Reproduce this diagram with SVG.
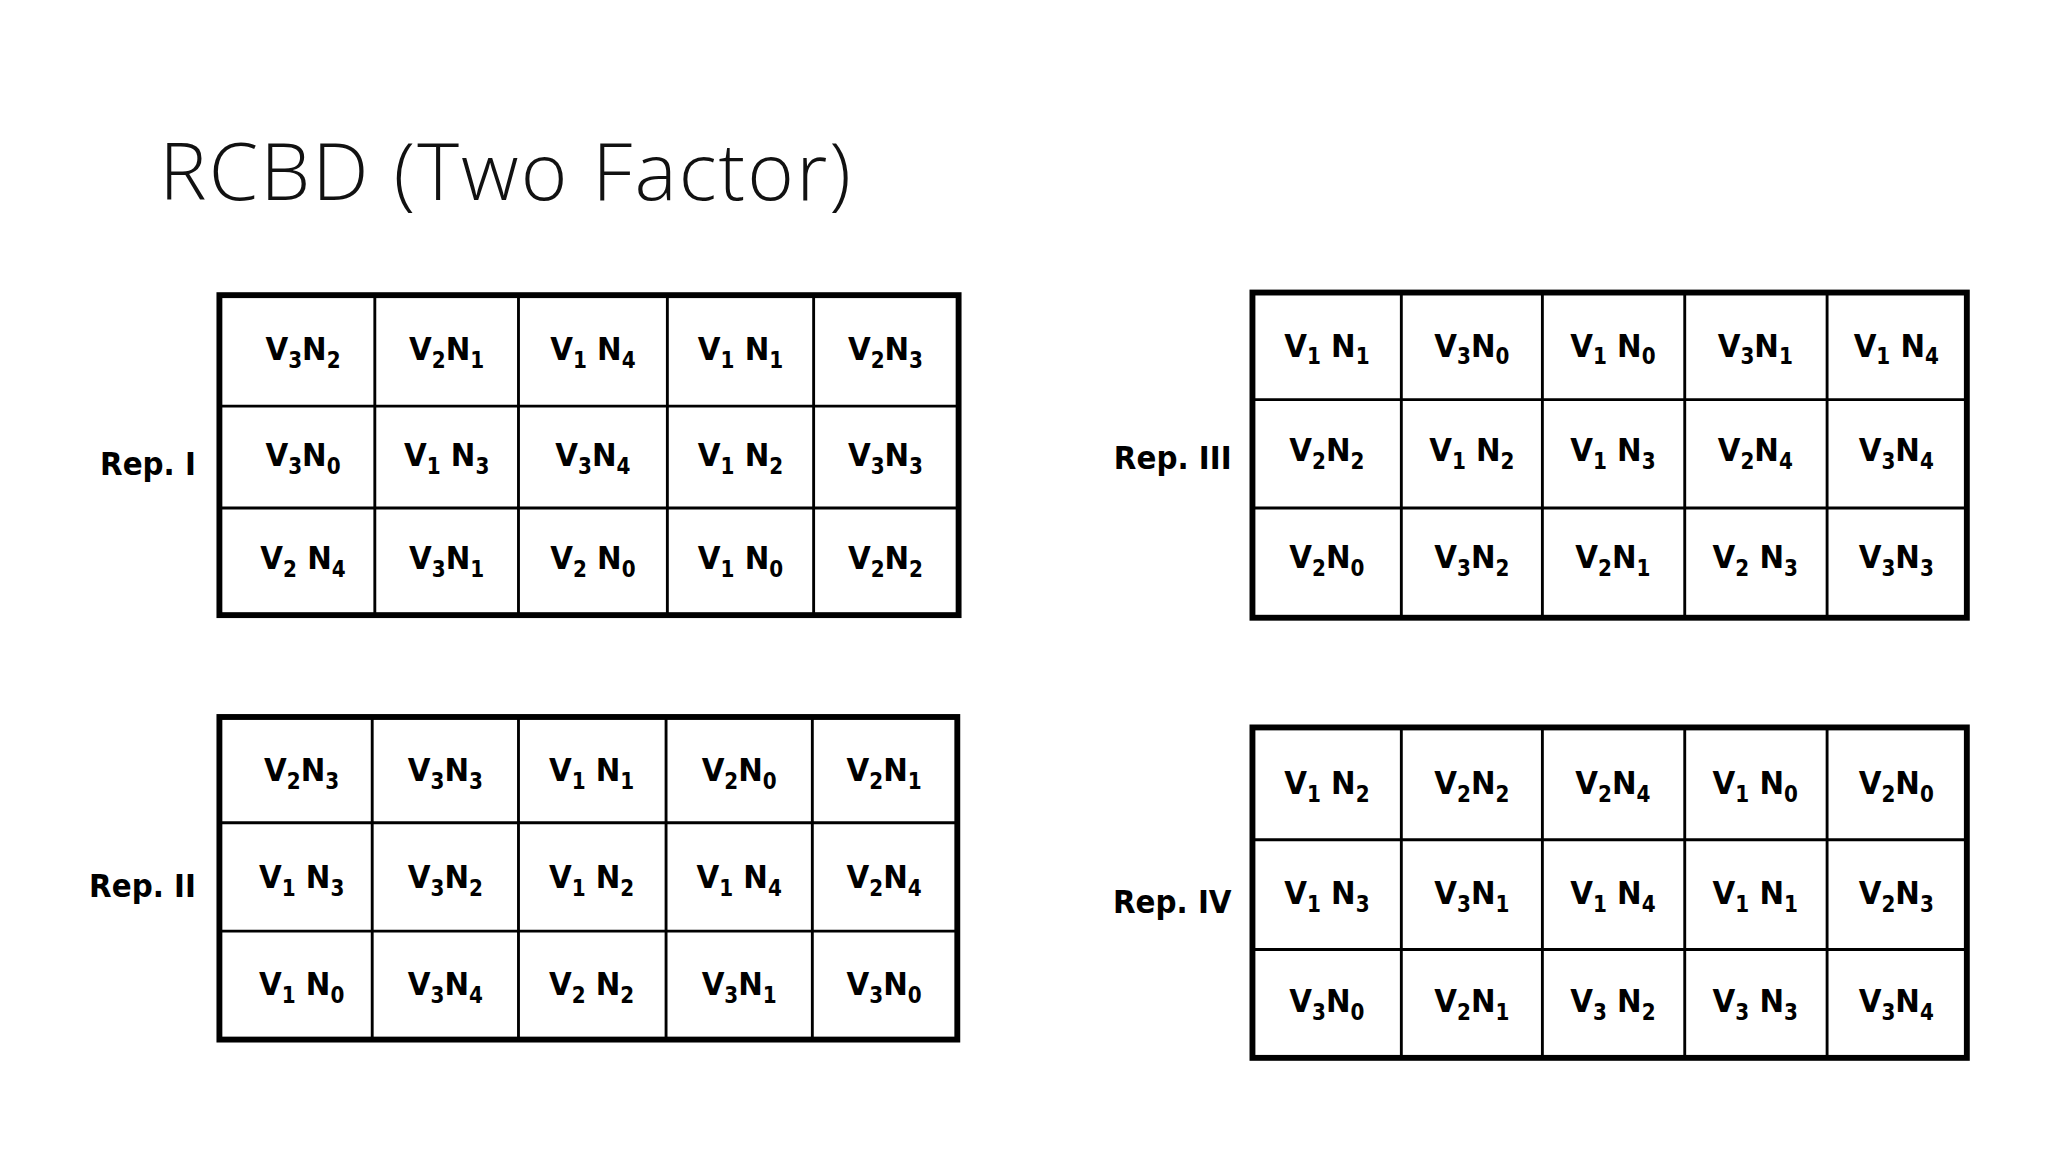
<svg xmlns="http://www.w3.org/2000/svg" width="2048" height="1152" viewBox="0 0 2048 1152">
<style>
.t{font-family:"Open Sans","Liberation Sans",sans-serif;font-weight:300;font-size:61px;letter-spacing:1.6px;fill:#111}
.o{fill:none;stroke:#000;stroke-width:4.5}
.i{stroke:#000;stroke-width:2.2}
.c{font-family:"DejaVu Sans Condensed","DejaVu Sans",sans-serif;font-weight:bold;font-size:25px;fill:#000;text-anchor:middle}
.s{font-size:17px}
.l{font-family:"DejaVu Sans Condensed","DejaVu Sans",sans-serif;font-weight:bold;font-size:25px;fill:#000;text-anchor:end}
</style>
<rect width="2048" height="1152" fill="#fff"/>
<g transform="scale(1.306)">
<text class="t" x="122" y="153">RCBD (Two Factor)</text>
<g id="rep1">
<text class="l" x="150" y="364">Rep. I</text>
<rect class="o" x="168" y="226" width="566" height="245"/>
<path class="i" d="M287 226V471M397 226V471M511 226V471M623 226V471M168 311H734M168 389H734"/>
<g class="c">
<text x="232" y="276">V<tspan class="s" dy="6">3</tspan><tspan dy="-6">N</tspan><tspan class="s" dy="6">2</tspan></text>
<text x="342" y="276">V<tspan class="s" dy="6">2</tspan><tspan dy="-6">N</tspan><tspan class="s" dy="6">1</tspan></text>
<text x="454" y="276">V<tspan class="s" dy="6">1</tspan><tspan dy="-6"> N</tspan><tspan class="s" dy="6">4</tspan></text>
<text x="567" y="276">V<tspan class="s" dy="6">1</tspan><tspan dy="-6"> N</tspan><tspan class="s" dy="6">1</tspan></text>
<text x="678" y="276">V<tspan class="s" dy="6">2</tspan><tspan dy="-6">N</tspan><tspan class="s" dy="6">3</tspan></text>
<text x="232" y="357">V<tspan class="s" dy="6">3</tspan><tspan dy="-6">N</tspan><tspan class="s" dy="6">0</tspan></text>
<text x="342" y="357">V<tspan class="s" dy="6">1</tspan><tspan dy="-6"> N</tspan><tspan class="s" dy="6">3</tspan></text>
<text x="454" y="357">V<tspan class="s" dy="6">3</tspan><tspan dy="-6">N</tspan><tspan class="s" dy="6">4</tspan></text>
<text x="567" y="357">V<tspan class="s" dy="6">1</tspan><tspan dy="-6"> N</tspan><tspan class="s" dy="6">2</tspan></text>
<text x="678" y="357">V<tspan class="s" dy="6">3</tspan><tspan dy="-6">N</tspan><tspan class="s" dy="6">3</tspan></text>
<text x="232" y="436">V<tspan class="s" dy="6">2</tspan><tspan dy="-6"> N</tspan><tspan class="s" dy="6">4</tspan></text>
<text x="342" y="436">V<tspan class="s" dy="6">3</tspan><tspan dy="-6">N</tspan><tspan class="s" dy="6">1</tspan></text>
<text x="454" y="436">V<tspan class="s" dy="6">2</tspan><tspan dy="-6"> N</tspan><tspan class="s" dy="6">0</tspan></text>
<text x="567" y="436">V<tspan class="s" dy="6">1</tspan><tspan dy="-6"> N</tspan><tspan class="s" dy="6">0</tspan></text>
<text x="678" y="436">V<tspan class="s" dy="6">2</tspan><tspan dy="-6">N</tspan><tspan class="s" dy="6">2</tspan></text>
</g>
</g>
<g id="rep2">
<text class="l" x="150" y="687">Rep. II</text>
<rect class="o" x="168" y="549" width="565" height="247"/>
<path class="i" d="M285 549V796M397 549V796M510 549V796M622 549V796M168 630H733M168 713H733"/>
<g class="c">
<text x="231" y="598">V<tspan class="s" dy="6">2</tspan><tspan dy="-6">N</tspan><tspan class="s" dy="6">3</tspan></text>
<text x="341" y="598">V<tspan class="s" dy="6">3</tspan><tspan dy="-6">N</tspan><tspan class="s" dy="6">3</tspan></text>
<text x="453" y="598">V<tspan class="s" dy="6">1</tspan><tspan dy="-6"> N</tspan><tspan class="s" dy="6">1</tspan></text>
<text x="566" y="598">V<tspan class="s" dy="6">2</tspan><tspan dy="-6">N</tspan><tspan class="s" dy="6">0</tspan></text>
<text x="677" y="598">V<tspan class="s" dy="6">2</tspan><tspan dy="-6">N</tspan><tspan class="s" dy="6">1</tspan></text>
<text x="231" y="680">V<tspan class="s" dy="6">1</tspan><tspan dy="-6"> N</tspan><tspan class="s" dy="6">3</tspan></text>
<text x="341" y="680">V<tspan class="s" dy="6">3</tspan><tspan dy="-6">N</tspan><tspan class="s" dy="6">2</tspan></text>
<text x="453" y="680">V<tspan class="s" dy="6">1</tspan><tspan dy="-6"> N</tspan><tspan class="s" dy="6">2</tspan></text>
<text x="566" y="680">V<tspan class="s" dy="6">1</tspan><tspan dy="-6"> N</tspan><tspan class="s" dy="6">4</tspan></text>
<text x="677" y="680">V<tspan class="s" dy="6">2</tspan><tspan dy="-6">N</tspan><tspan class="s" dy="6">4</tspan></text>
<text x="231" y="762">V<tspan class="s" dy="6">1</tspan><tspan dy="-6"> N</tspan><tspan class="s" dy="6">0</tspan></text>
<text x="341" y="762">V<tspan class="s" dy="6">3</tspan><tspan dy="-6">N</tspan><tspan class="s" dy="6">4</tspan></text>
<text x="453" y="762">V<tspan class="s" dy="6">2</tspan><tspan dy="-6"> N</tspan><tspan class="s" dy="6">2</tspan></text>
<text x="566" y="762">V<tspan class="s" dy="6">3</tspan><tspan dy="-6">N</tspan><tspan class="s" dy="6">1</tspan></text>
<text x="677" y="762">V<tspan class="s" dy="6">3</tspan><tspan dy="-6">N</tspan><tspan class="s" dy="6">0</tspan></text>
</g>
</g>
<g id="rep3">
<text class="l" x="943" y="359">Rep. III</text>
<rect class="o" x="959" y="224" width="547" height="249"/>
<path class="i" d="M1073 224V473M1181 224V473M1290 224V473M1399 224V473M959 306H1506M959 389H1506"/>
<g class="c">
<text x="1016" y="273">V<tspan class="s" dy="6">1</tspan><tspan dy="-6"> N</tspan><tspan class="s" dy="6">1</tspan></text>
<text x="1127" y="273">V<tspan class="s" dy="6">3</tspan><tspan dy="-6">N</tspan><tspan class="s" dy="6">0</tspan></text>
<text x="1235" y="273">V<tspan class="s" dy="6">1</tspan><tspan dy="-6"> N</tspan><tspan class="s" dy="6">0</tspan></text>
<text x="1344" y="273">V<tspan class="s" dy="6">3</tspan><tspan dy="-6">N</tspan><tspan class="s" dy="6">1</tspan></text>
<text x="1452" y="273">V<tspan class="s" dy="6">1</tspan><tspan dy="-6"> N</tspan><tspan class="s" dy="6">4</tspan></text>
<text x="1016" y="353">V<tspan class="s" dy="6">2</tspan><tspan dy="-6">N</tspan><tspan class="s" dy="6">2</tspan></text>
<text x="1127" y="353">V<tspan class="s" dy="6">1</tspan><tspan dy="-6"> N</tspan><tspan class="s" dy="6">2</tspan></text>
<text x="1235" y="353">V<tspan class="s" dy="6">1</tspan><tspan dy="-6"> N</tspan><tspan class="s" dy="6">3</tspan></text>
<text x="1344" y="353">V<tspan class="s" dy="6">2</tspan><tspan dy="-6">N</tspan><tspan class="s" dy="6">4</tspan></text>
<text x="1452" y="353">V<tspan class="s" dy="6">3</tspan><tspan dy="-6">N</tspan><tspan class="s" dy="6">4</tspan></text>
<text x="1016" y="435">V<tspan class="s" dy="6">2</tspan><tspan dy="-6">N</tspan><tspan class="s" dy="6">0</tspan></text>
<text x="1127" y="435">V<tspan class="s" dy="6">3</tspan><tspan dy="-6">N</tspan><tspan class="s" dy="6">2</tspan></text>
<text x="1235" y="435">V<tspan class="s" dy="6">2</tspan><tspan dy="-6">N</tspan><tspan class="s" dy="6">1</tspan></text>
<text x="1344" y="435">V<tspan class="s" dy="6">2</tspan><tspan dy="-6"> N</tspan><tspan class="s" dy="6">3</tspan></text>
<text x="1452" y="435">V<tspan class="s" dy="6">3</tspan><tspan dy="-6">N</tspan><tspan class="s" dy="6">3</tspan></text>
</g>
</g>
<g id="rep4">
<text class="l" x="943" y="699">Rep. IV</text>
<rect class="o" x="959" y="557" width="547" height="253"/>
<path class="i" d="M1073 557V810M1181 557V810M1290 557V810M1399 557V810M959 643H1506M959 727H1506"/>
<g class="c">
<text x="1016" y="608">V<tspan class="s" dy="6">1</tspan><tspan dy="-6"> N</tspan><tspan class="s" dy="6">2</tspan></text>
<text x="1127" y="608">V<tspan class="s" dy="6">2</tspan><tspan dy="-6">N</tspan><tspan class="s" dy="6">2</tspan></text>
<text x="1235" y="608">V<tspan class="s" dy="6">2</tspan><tspan dy="-6">N</tspan><tspan class="s" dy="6">4</tspan></text>
<text x="1344" y="608">V<tspan class="s" dy="6">1</tspan><tspan dy="-6"> N</tspan><tspan class="s" dy="6">0</tspan></text>
<text x="1452" y="608">V<tspan class="s" dy="6">2</tspan><tspan dy="-6">N</tspan><tspan class="s" dy="6">0</tspan></text>
<text x="1016" y="692">V<tspan class="s" dy="6">1</tspan><tspan dy="-6"> N</tspan><tspan class="s" dy="6">3</tspan></text>
<text x="1127" y="692">V<tspan class="s" dy="6">3</tspan><tspan dy="-6">N</tspan><tspan class="s" dy="6">1</tspan></text>
<text x="1235" y="692">V<tspan class="s" dy="6">1</tspan><tspan dy="-6"> N</tspan><tspan class="s" dy="6">4</tspan></text>
<text x="1344" y="692">V<tspan class="s" dy="6">1</tspan><tspan dy="-6"> N</tspan><tspan class="s" dy="6">1</tspan></text>
<text x="1452" y="692">V<tspan class="s" dy="6">2</tspan><tspan dy="-6">N</tspan><tspan class="s" dy="6">3</tspan></text>
<text x="1016" y="775">V<tspan class="s" dy="6">3</tspan><tspan dy="-6">N</tspan><tspan class="s" dy="6">0</tspan></text>
<text x="1127" y="775">V<tspan class="s" dy="6">2</tspan><tspan dy="-6">N</tspan><tspan class="s" dy="6">1</tspan></text>
<text x="1235" y="775">V<tspan class="s" dy="6">3</tspan><tspan dy="-6"> N</tspan><tspan class="s" dy="6">2</tspan></text>
<text x="1344" y="775">V<tspan class="s" dy="6">3</tspan><tspan dy="-6"> N</tspan><tspan class="s" dy="6">3</tspan></text>
<text x="1452" y="775">V<tspan class="s" dy="6">3</tspan><tspan dy="-6">N</tspan><tspan class="s" dy="6">4</tspan></text>
</g>
</g>
</g>
</svg>
